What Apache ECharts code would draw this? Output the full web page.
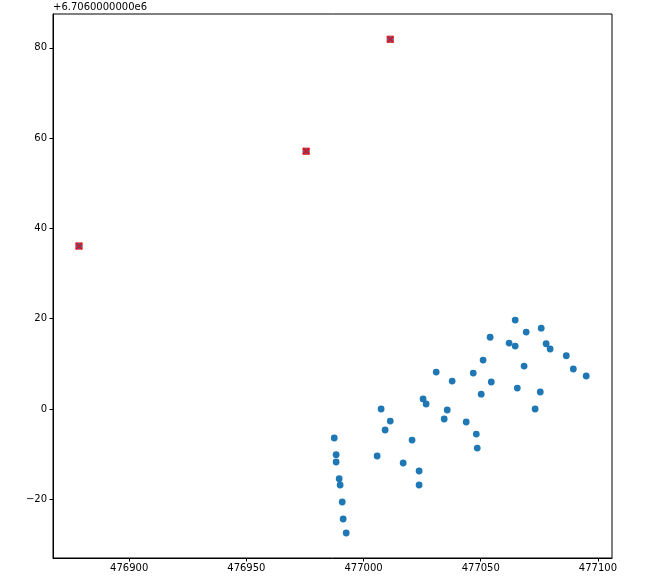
<!DOCTYPE html>
<html>
<head>
<meta charset="utf-8">
<script src="https://cdn.jsdelivr.net/npm/echarts@6/dist/echarts.min.js"></script>
<style>html,body{margin:0;padding:0;background:#fff}#c{width:649px;height:584px}</style>
</head>
<body>
<div id="c"></div>
<script>
// y values are relative to the offset shown at top-left (+6.7060000000e6)
const Y_OFFSET_LABEL = '+6.7060000000e6';
const xTicks = [476900, 476950, 477000, 477050, 477100];
const yTicks = [-20, 0, 20, 40, 60, 80];

const blueX = [477064.7, 477069.4, 477075.8, 477054.0, 477062.1, 477064.7, 477077.9, 477079.6, 477086.5, 477051.0,
  477068.5, 477089.5, 477095.0, 477031.0, 477046.8, 477037.8, 477054.5, 477065.6, 477075.4, 477050.2,
  477025.4, 477026.7, 477073.2, 477007.5, 477035.7, 477011.4, 477034.4, 477043.8, 477009.2, 477048.1,
  476987.5, 477020.7, 477048.5, 476988.3, 477005.8, 476988.3, 477016.9, 477023.7, 476989.6, 476990.0,
  477023.7, 476990.9, 476991.3, 476992.6];
const blueY = [19.7, 17.05, 17.9, 15.9, 14.6, 13.95, 14.46, 13.3, 11.8, 10.85,
  9.52, 8.86, 7.31, 8.19, 7.97, 6.2, 5.98, 4.65, 3.77, 3.28,
  2.24, 1.11, 0.0, 0.0, -0.22, -2.66, -2.21, -2.88, -4.65, -5.54,
  -6.42, -6.87, -8.64, -10.12, -10.41, -11.74, -11.96, -13.73, -15.44, -16.83,
  -16.83, -20.6, -24.36, -27.46];

const redX = [476878.6, 476975.5, 477011.4];
const redY = [36.1, 57.1, 81.9];

const chart = echarts.init(document.getElementById('c'), null, {renderer: 'canvas'});
const font = 'DejaVu Sans';
const zip = (a, b) => a.map((v, i) => [v, b[i]]);

chart.setOption({
  animation: false,
  backgroundColor: '#fff',
  grid: {left: 53, right: 37, top: 14, bottom: 26, show: true, borderColor: '#000', borderWidth: 1, backgroundColor: 'transparent'},
  graphic: [{type: 'text', left: 53, top: 2, style: {text: Y_OFFSET_LABEL, font: '10px "DejaVu Sans"', fill: '#000'}}],
  xAxis: {
    type: 'value', min: 476867.5, max: 477106.0,
    splitLine: {show: false},
    axisLine: {show: true, onZero: false, lineStyle: {color: '#000', width: 1}},
    axisTick: {show: true, length: 3.5, inside: false, lineStyle: {color: '#000'}, customValues: xTicks},
    axisLabel: {show: true, color: '#000', fontFamily: font, fontSize: 10, margin: 5, customValues: xTicks, formatter: v => String(Math.round(v))}
  },
  yAxis: {
    type: 'value', min: -33.0, max: 87.5,
    splitLine: {show: false},
    axisLine: {show: true, onZero: false, lineStyle: {color: '#000', width: 1}},
    axisTick: {show: true, length: 3.5, inside: false, lineStyle: {color: '#000'}, customValues: yTicks},
    axisLabel: {show: true, color: '#000', fontFamily: font, fontSize: 10, margin: 6, customValues: yTicks, formatter: v => (v < 0 ? '\u2212' + Math.abs(Math.round(v)) : String(Math.round(v)))}
  },
  series: [
    {type: 'scatter', data: zip(blueX, blueY), symbol: 'circle', symbolSize: 6.8, itemStyle: {color: '#1f77b4', opacity: 1}, z: 2},
    {type: 'scatter', data: zip(redX, redY), symbol: 'rect', symbolSize: 6.5, itemStyle: {color: '#1f77b4', borderColor: '#ff3030', borderWidth: 0.8, opacity: 1}, z: 3},
    {type: 'scatter', data: zip(redX, redY), symbol: 'path://M0,0L10,10M10,0L0,10', symbolSize: 6,
      itemStyle: {color: 'none', borderColor: '#ff0000', borderWidth: 1.8}, z: 4}
  ]
});
</script>
</body>
</html>
